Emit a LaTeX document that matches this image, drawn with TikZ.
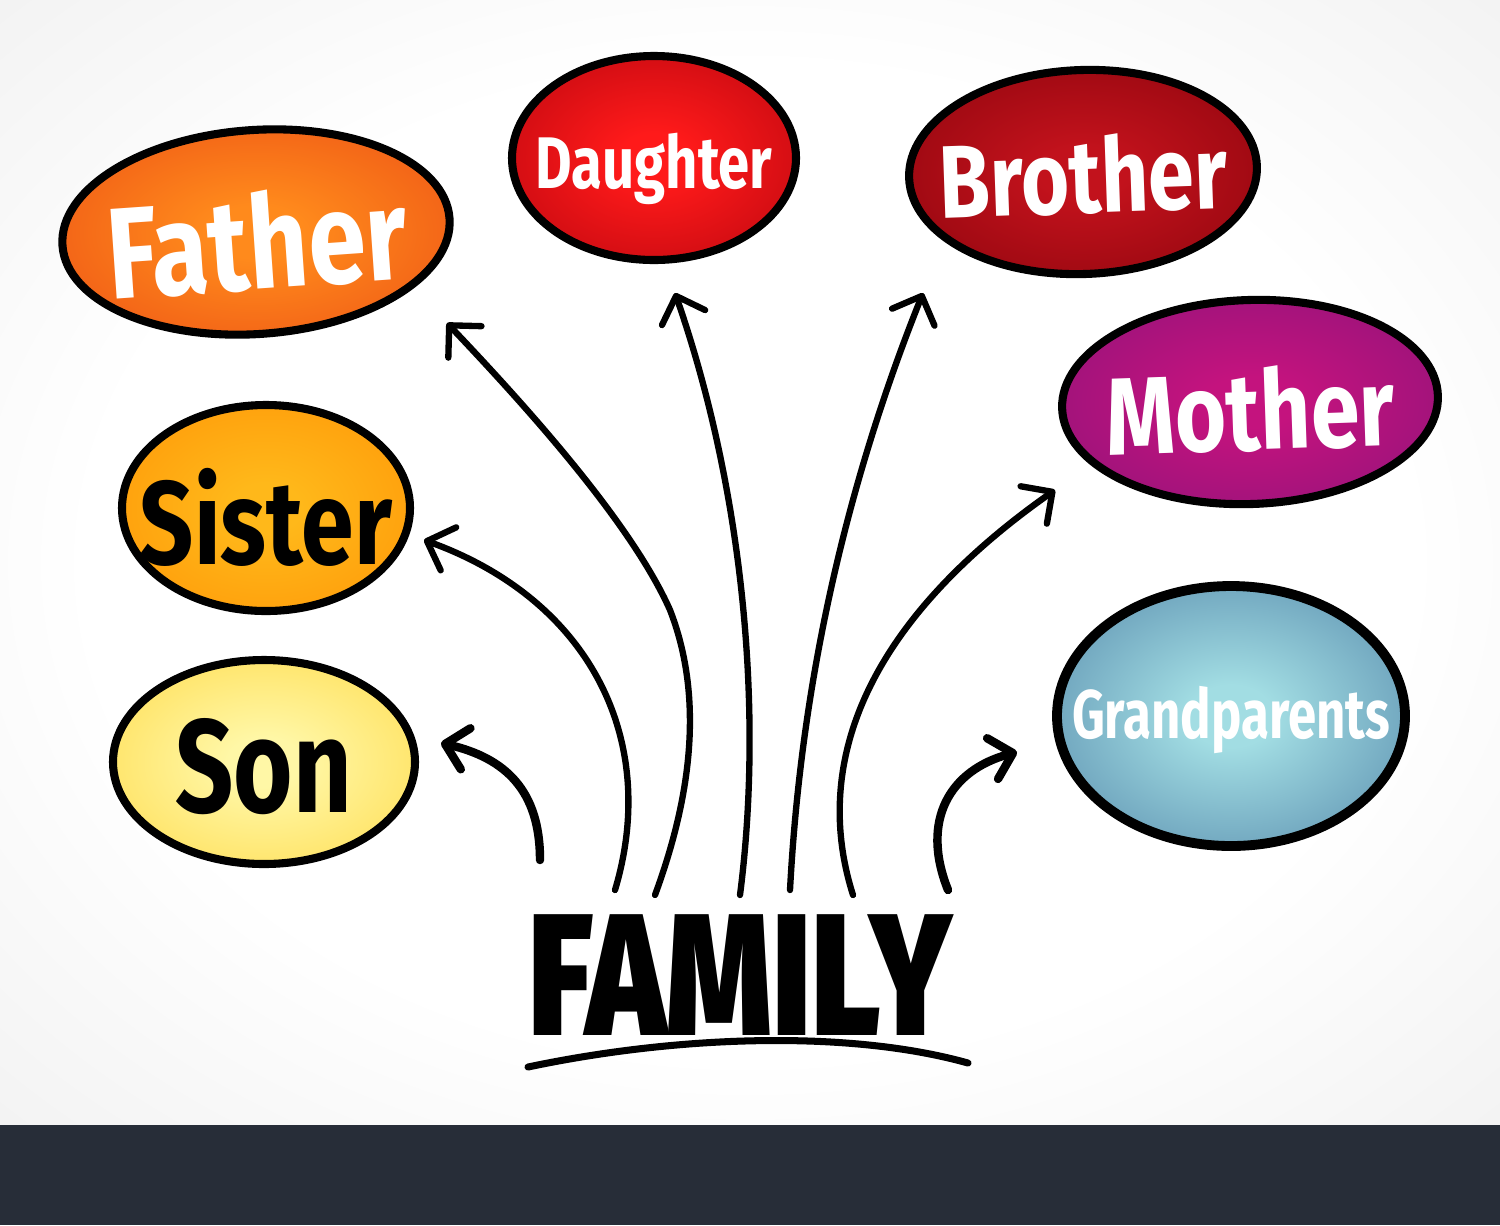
\documentclass[tikz,border=0pt]{standalone}
\usepackage{fontspec}
\setmainfont{Fira Sans}
\newfontfamily\heavyfont{Fira Sans Black}
\usetikzlibrary{arrows.meta,shapes.geometric}
\definecolor{fatherIn}{HTML}{FF8A1C}\definecolor{fatherOut}{HTML}{E63B12}
\definecolor{daughterIn}{HTML}{FF1A1A}\definecolor{daughterOut}{HTML}{A3000C}
\definecolor{brotherIn}{HTML}{C2121C}\definecolor{brotherOut}{HTML}{7A0008}
\definecolor{motherIn}{HTML}{C4137E}\definecolor{motherOut}{HTML}{7C1478}
\definecolor{sisterIn}{HTML}{FFB81A}\definecolor{sisterOut}{HTML}{FF8A00}
\definecolor{sonIn}{HTML}{FFF7A6}\definecolor{sonOut}{HTML}{FFD22E}
\definecolor{grandIn}{HTML}{A2DDE3}\definecolor{grandOut}{HTML}{3C6C98}
\definecolor{barcol}{HTML}{272D38}
\colorlet{bubin}{white}\colorlet{bubout}{black}
\pgfdeclareradialshading[bubin,bubout]{bub}{\pgfpointorigin}{color(0bp)=(bubin);color(6bp)=(bubin);color(47bp)=(bubout);color(50bp)=(bubout)}
\pgfdeclareradialshading{bgshade}{\pgfpointorigin}{color(0bp)=(white);color(22bp)=(white);color(50bp)=(black!10);color(71bp)=(black!19)}
\newcommand\bubtext[1]{\smash{\makebox[0pt]{#1}}}
\begin{document}
\begin{tikzpicture}[x=0.1mm,y=-0.1mm,
  bubble/.style={ellipse, draw=black, line width=2.3pt, inner sep=0pt, outer sep=0pt, shading=bub},
  bubcol/.code 2 args={\colorlet{bubin}{#1}\colorlet{bubout}{#2}},
  arr/.style={line width=1.8pt, line cap=round, -{Straight Barb[length=6.5pt,width=13pt,round]}},
  thickarr/.style={line width=2.4pt, line cap=round, -{Straight Barb[length=6pt,width=12pt,round]}}]
\useasboundingbox (0,0) rectangle (1500,1225);
\shade[shading=bgshade] (0,0) rectangle (1500,1125);
\fill[barcol] (0,1125) rectangle (1500,1225);

% bubbles
\node[bubble, bubcol={fatherIn}{fatherOut}, minimum width=38.8mm, minimum height=20.4mm, rotate=4] (father) at (256,232)
  {\bubtext{\color{white}\bfseries\fontsize{29.5}{30}\selectfont\raisebox{-0.55em}{\scalebox{1}[1.25]{Father}}}};
\node[bubble, bubcol={daughterIn}{daughterOut}, minimum width=28.4mm, minimum height=20.4mm] (daughter) at (654,158)
  {\bubtext{\color{white}\bfseries\fontsize{16}{18}\selectfont\raisebox{-0.55em}{\scalebox{1}[1.3]{Daughter}}}};
\node[bubble, bubcol={brotherIn}{brotherOut}, minimum width=34.8mm, minimum height=20.4mm, rotate=2] (brother) at (1083,172)
  {\bubtext{\color{white}\bfseries\fontsize{23.5}{25}\selectfont\raisebox{-0.5em}{\scalebox{1}[1.25]{Brother}}}};
\node[bubble, bubcol={motherIn}{motherOut}, minimum width=37.6mm, minimum height=20.4mm, rotate=2] (mother) at (1250,402)
  {\bubtext{\color{white}\bfseries\fontsize{25}{27}\selectfont\raisebox{-0.55em}{\scalebox{1}[1.25]{Mother}}}};
\node[bubble, bubcol={sisterIn}{sisterOut}, minimum width=28.8mm, minimum height=20.6mm] (sister) at (266,508)
  {\bubtext{\color{black}\bfseries\fontsize{27}{29}\selectfont\raisebox{-0.6em}{\scalebox{1}[1.25]{Sister}}}};
\node[bubble, bubcol={sonIn}{sonOut}, minimum width=30.2mm, minimum height=20.4mm] (son) at (264,762)
  {\bubtext{\color{black}\bfseries\fontsize{29}{31}\selectfont\raisebox{-0.5em}{\scalebox{1}[1.3]{Son}}}};
\node[bubble, bubcol={grandIn}{grandOut}, line width=2.8pt, minimum width=34.8mm, minimum height=26mm] (grand) at (1231,716)
  {\bubtext{\color{white}\bfseries\fontsize{14.5}{16}\selectfont\raisebox{-0.45em}{\scalebox{1}[1.35]{Grandparents}}}};

% central word
\node[font=\heavyfont\fontsize{38}{40}\selectfont, inner sep=0pt] (family) at (740,975) {\scalebox{1}[1.3]{FAMILY}};
\coordinate (ulA) at (528,1067);
\coordinate (ulB) at (968,1063);
\draw[line width=2pt, line cap=round] (ulA) .. controls (680,1035) and (850,1030) .. (ulB);

% start and end points of connectors
\coordinate (sSon) at (540,860);      \coordinate (tSon) at (441,743);
\coordinate (sSister) at (615,890);   \coordinate (tSister) at (424,540);
\coordinate (sFather) at (655,895);   \coordinate (tFather) at (447,323);
\coordinate (sDaughter) at (740,895); \coordinate (tDaughter) at (675,293);
\coordinate (sBrother) at (790,890);  \coordinate (tBrother) at (923,293);
\coordinate (sMother) at (853,895);   \coordinate (tMother) at (1055,490);
\coordinate (sGrand) at (948,890);    \coordinate (tGrand) at (1017,752);

\draw[thickarr] (sSon) .. controls (540,790) and (505,758) .. (tSon);
\draw[arr] (sSister) .. controls (660,740) and (590,600) .. (tSister);
\draw[arr] (sFather) .. controls (690,800) and (705,700) .. (670,610) .. controls (630,520) and (520,400) .. (tFather);
\draw[arr] (sDaughter) .. controls (765,700) and (740,480) .. (tDaughter);
\draw[arr] (sBrother) .. controls (800,700) and (840,500) .. (tBrother);
\draw[arr] (sMother) .. controls (810,760) and (870,620) .. (tMother);
\draw[thickarr] (sGrand) .. controls (920,820) and (950,770) .. (tGrand);
\end{tikzpicture}
\end{document}
